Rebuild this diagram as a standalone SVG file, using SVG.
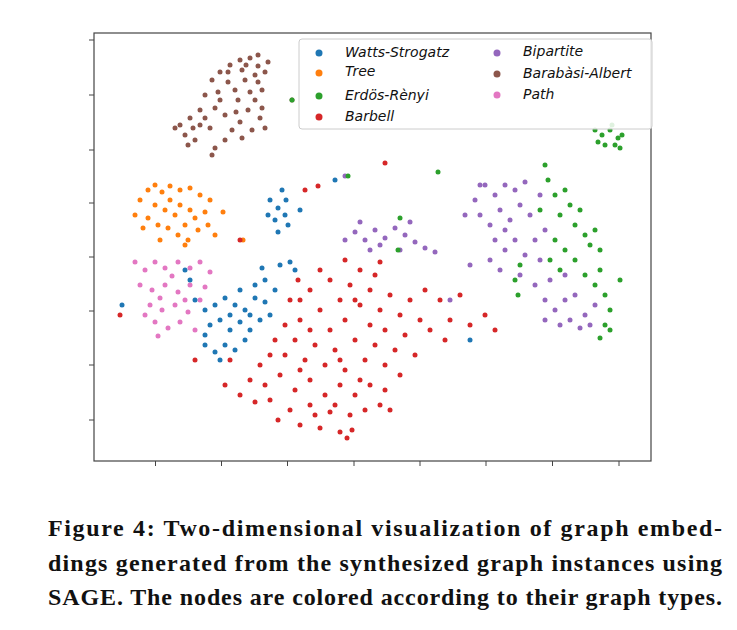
<svg xmlns="http://www.w3.org/2000/svg" width="737" height="630" viewBox="0 0 737 630">
<style>
.ax{fill:none;stroke:#444;stroke-width:1.2}
.tk{stroke:#444;stroke-width:1}
.b circle{fill:#1f77b4}.o circle{fill:#ff7f0e}.g circle{fill:#2ca02c}.r circle{fill:#d62728}.p circle{fill:#9467bd}.n circle{fill:#8c564b}.k circle{fill:#e377c2}
.lg{font-family:"DejaVu Sans",sans-serif;font-style:italic;font-size:14px;fill:#111}
.cap{font-family:"Liberation Serif",serif;font-weight:bold;font-size:24px;fill:#111}
</style>
<rect width="737" height="630" fill="#fff"/>
<g id="points">
<g class="n">
<circle cx="180" cy="125" r="2.5"/><circle cx="190" cy="118" r="2.5"/><circle cx="200" cy="110" r="2.5"/><circle cx="185" cy="135" r="2.5"/><circle cx="195" cy="140" r="2.5"/><circle cx="210" cy="128" r="2.5"/><circle cx="215" cy="148" r="2.5"/><circle cx="205" cy="95" r="2.5"/><circle cx="212" cy="80" r="2.5"/><circle cx="220" cy="72" r="2.5"/><circle cx="230" cy="65" r="2.5"/><circle cx="240" cy="60" r="2.5"/><circle cx="250" cy="58" r="2.5"/><circle cx="258" cy="66" r="2.5"/><circle cx="265" cy="72" r="2.5"/><circle cx="262" cy="90" r="2.5"/><circle cx="255" cy="100" r="2.5"/><circle cx="248" cy="110" r="2.5"/><circle cx="240" cy="122" r="2.5"/><circle cx="232" cy="130" r="2.5"/><circle cx="225" cy="115" r="2.5"/><circle cx="220" cy="100" r="2.5"/><circle cx="235" cy="90" r="2.5"/><circle cx="245" cy="80" r="2.5"/><circle cx="228" cy="82" r="2.5"/><circle cx="238" cy="100" r="2.5"/><circle cx="250" cy="92" r="2.5"/><circle cx="260" cy="118" r="2.5"/><circle cx="265" cy="128" r="2.5"/><circle cx="252" cy="130" r="2.5"/><circle cx="242" cy="138" r="2.5"/><circle cx="225" cy="140" r="2.5"/><circle cx="212" cy="155" r="2.5"/><circle cx="200" cy="125" r="2.5"/><circle cx="175" cy="128" r="2.5"/><circle cx="205" cy="118" r="2.5"/><circle cx="218" cy="92" r="2.5"/><circle cx="242" cy="70" r="2.5"/><circle cx="255" cy="75" r="2.5"/><circle cx="268" cy="62" r="2.5"/><circle cx="236" cy="112" r="2.5"/><circle cx="215" cy="108" r="2.5"/><circle cx="193" cy="128" r="2.5"/><circle cx="188" cy="145" r="2.5"/><circle cx="228" cy="72" r="2.5"/><circle cx="246" cy="65" r="2.5"/><circle cx="258" cy="82" r="2.5"/><circle cx="262" cy="108" r="2.5"/><circle cx="292" cy="100" r="2.5"/><circle cx="258" cy="55" r="2.5"/>
</g>
<g class="o">
<circle cx="135" cy="215" r="2.5"/><circle cx="140" cy="200" r="2.5"/><circle cx="148" cy="190" r="2.5"/><circle cx="155" cy="185" r="2.5"/><circle cx="162" cy="192" r="2.5"/><circle cx="170" cy="186" r="2.5"/><circle cx="180" cy="190" r="2.5"/><circle cx="190" cy="188" r="2.5"/><circle cx="200" cy="195" r="2.5"/><circle cx="210" cy="200" r="2.5"/><circle cx="205" cy="212" r="2.5"/><circle cx="195" cy="218" r="2.5"/><circle cx="185" cy="225" r="2.5"/><circle cx="175" cy="215" r="2.5"/><circle cx="165" cy="210" r="2.5"/><circle cx="155" cy="205" r="2.5"/><circle cx="148" cy="218" r="2.5"/><circle cx="158" cy="225" r="2.5"/><circle cx="168" cy="228" r="2.5"/><circle cx="178" cy="235" r="2.5"/><circle cx="188" cy="240" r="2.5"/><circle cx="198" cy="230" r="2.5"/><circle cx="208" cy="225" r="2.5"/><circle cx="215" cy="235" r="2.5"/><circle cx="180" cy="205" r="2.5"/><circle cx="190" cy="210" r="2.5"/><circle cx="170" cy="200" r="2.5"/><circle cx="143" cy="228" r="2.5"/><circle cx="223" cy="212" r="2.5"/><circle cx="185" cy="245" r="2.5"/><circle cx="243" cy="240" r="2.5"/><circle cx="160" cy="240" r="2.5"/>
</g>
<g class="k">
<circle cx="135" cy="262" r="2.5"/><circle cx="145" cy="270" r="2.5"/><circle cx="155" cy="262" r="2.5"/><circle cx="165" cy="268" r="2.5"/><circle cx="178" cy="262" r="2.5"/><circle cx="190" cy="268" r="2.5"/><circle cx="200" cy="262" r="2.5"/><circle cx="210" cy="272" r="2.5"/><circle cx="140" cy="285" r="2.5"/><circle cx="152" cy="290" r="2.5"/><circle cx="165" cy="285" r="2.5"/><circle cx="178" cy="292" r="2.5"/><circle cx="190" cy="285" r="2.5"/><circle cx="150" cy="305" r="2.5"/><circle cx="162" cy="310" r="2.5"/><circle cx="175" cy="305" r="2.5"/><circle cx="188" cy="312" r="2.5"/><circle cx="155" cy="322" r="2.5"/><circle cx="168" cy="328" r="2.5"/><circle cx="180" cy="322" r="2.5"/><circle cx="195" cy="330" r="2.5"/><circle cx="200" cy="300" r="2.5"/><circle cx="145" cy="315" r="2.5"/><circle cx="160" cy="298" r="2.5"/><circle cx="172" cy="276" r="2.5"/><circle cx="205" cy="287" r="2.5"/><circle cx="158" cy="336" r="2.5"/><circle cx="185" cy="300" r="2.5"/>
</g>
<g class="b">
<circle cx="195" cy="300" r="2.5"/><circle cx="205" cy="310" r="2.5"/><circle cx="215" cy="305" r="2.5"/><circle cx="225" cy="298" r="2.5"/><circle cx="235" cy="305" r="2.5"/><circle cx="245" cy="310" r="2.5"/><circle cx="255" cy="298" r="2.5"/><circle cx="265" cy="302" r="2.5"/><circle cx="210" cy="325" r="2.5"/><circle cx="220" cy="320" r="2.5"/><circle cx="230" cy="330" r="2.5"/><circle cx="240" cy="322" r="2.5"/><circle cx="250" cy="330" r="2.5"/><circle cx="260" cy="320" r="2.5"/><circle cx="270" cy="315" r="2.5"/><circle cx="205" cy="345" r="2.5"/><circle cx="215" cy="352" r="2.5"/><circle cx="225" cy="345" r="2.5"/><circle cx="235" cy="350" r="2.5"/><circle cx="220" cy="360" r="2.5"/><circle cx="245" cy="340" r="2.5"/><circle cx="255" cy="285" r="2.5"/><circle cx="265" cy="280" r="2.5"/><circle cx="275" cy="290" r="2.5"/><circle cx="280" cy="265" r="2.5"/><circle cx="290" cy="262" r="2.5"/><circle cx="295" cy="270" r="2.5"/><circle cx="270" cy="200" r="2.5"/><circle cx="278" cy="208" r="2.5"/><circle cx="285" cy="215" r="2.5"/><circle cx="275" cy="220" r="2.5"/><circle cx="288" cy="225" r="2.5"/><circle cx="282" cy="190" r="2.5"/><circle cx="268" cy="215" r="2.5"/><circle cx="278" cy="232" r="2.5"/><circle cx="286" cy="200" r="2.5"/><circle cx="190" cy="280" r="2.5"/><circle cx="185" cy="270" r="2.5"/><circle cx="122" cy="305" r="2.5"/><circle cx="205" cy="335" r="2.5"/><circle cx="240" cy="290" r="2.5"/><circle cx="250" cy="315" r="2.5"/><circle cx="230" cy="315" r="2.5"/><circle cx="262" cy="268" r="2.5"/><circle cx="300" cy="210" r="2.5"/><circle cx="470" cy="340" r="2.5"/><circle cx="335" cy="180" r="2.5"/>
</g>
<g class="r">
<circle cx="290" cy="300" r="2.5"/><circle cx="300" cy="320" r="2.5"/><circle cx="310" cy="290" r="2.5"/><circle cx="320" cy="310" r="2.5"/><circle cx="330" cy="280" r="2.5"/><circle cx="340" cy="300" r="2.5"/><circle cx="350" cy="285" r="2.5"/><circle cx="360" cy="305" r="2.5"/><circle cx="370" cy="290" r="2.5"/><circle cx="380" cy="310" r="2.5"/><circle cx="390" cy="295" r="2.5"/><circle cx="400" cy="315" r="2.5"/><circle cx="410" cy="300" r="2.5"/><circle cx="275" cy="340" r="2.5"/><circle cx="285" cy="355" r="2.5"/><circle cx="295" cy="340" r="2.5"/><circle cx="305" cy="360" r="2.5"/><circle cx="315" cy="345" r="2.5"/><circle cx="325" cy="365" r="2.5"/><circle cx="335" cy="350" r="2.5"/><circle cx="345" cy="370" r="2.5"/><circle cx="355" cy="340" r="2.5"/><circle cx="365" cy="360" r="2.5"/><circle cx="375" cy="345" r="2.5"/><circle cx="385" cy="365" r="2.5"/><circle cx="395" cy="350" r="2.5"/><circle cx="405" cy="335" r="2.5"/><circle cx="250" cy="380" r="2.5"/><circle cx="265" cy="385" r="2.5"/><circle cx="280" cy="375" r="2.5"/><circle cx="295" cy="390" r="2.5"/><circle cx="310" cy="380" r="2.5"/><circle cx="325" cy="395" r="2.5"/><circle cx="340" cy="385" r="2.5"/><circle cx="355" cy="395" r="2.5"/><circle cx="370" cy="385" r="2.5"/><circle cx="385" cy="390" r="2.5"/><circle cx="240" cy="395" r="2.5"/><circle cx="255" cy="402" r="2.5"/><circle cx="270" cy="400" r="2.5"/><circle cx="290" cy="410" r="2.5"/><circle cx="310" cy="405" r="2.5"/><circle cx="330" cy="412" r="2.5"/><circle cx="350" cy="415" r="2.5"/><circle cx="365" cy="410" r="2.5"/><circle cx="380" cy="405" r="2.5"/><circle cx="300" cy="425" r="2.5"/><circle cx="320" cy="428" r="2.5"/><circle cx="340" cy="432" r="2.5"/><circle cx="352" cy="430" r="2.5"/><circle cx="347" cy="438" r="2.5"/><circle cx="225" cy="385" r="2.5"/><circle cx="345" cy="260" r="2.5"/><circle cx="320" cy="270" r="2.5"/><circle cx="360" cy="270" r="2.5"/><circle cx="380" cy="262" r="2.5"/><circle cx="298" cy="280" r="2.5"/><circle cx="270" cy="355" r="2.5"/><circle cx="260" cy="365" r="2.5"/><circle cx="420" cy="320" r="2.5"/><circle cx="430" cy="330" r="2.5"/><circle cx="440" cy="300" r="2.5"/><circle cx="450" cy="320" r="2.5"/><circle cx="460" cy="295" r="2.5"/><circle cx="470" cy="325" r="2.5"/><circle cx="485" cy="315" r="2.5"/><circle cx="495" cy="330" r="2.5"/><circle cx="415" cy="355" r="2.5"/><circle cx="400" cy="375" r="2.5"/><circle cx="330" cy="330" r="2.5"/><circle cx="345" cy="320" r="2.5"/><circle cx="310" cy="330" r="2.5"/><circle cx="370" cy="325" r="2.5"/><circle cx="385" cy="330" r="2.5"/><circle cx="300" cy="370" r="2.5"/><circle cx="340" cy="360" r="2.5"/><circle cx="360" cy="380" r="2.5"/><circle cx="230" cy="360" r="2.5"/><circle cx="120" cy="315" r="2.5"/><circle cx="195" cy="360" r="2.5"/><circle cx="305" cy="190" r="2.5"/><circle cx="318" cy="186" r="2.5"/><circle cx="385" cy="163" r="2.5"/><circle cx="240" cy="240" r="2.5"/><circle cx="300" cy="300" r="2.5"/><circle cx="425" cy="290" r="2.5"/><circle cx="445" cy="340" r="2.5"/><circle cx="278" cy="420" r="2.5"/><circle cx="315" cy="415" r="2.5"/><circle cx="335" cy="405" r="2.5"/><circle cx="390" cy="410" r="2.5"/><circle cx="285" cy="325" r="2.5"/><circle cx="355" cy="300" r="2.5"/><circle cx="375" cy="275" r="2.5"/>
</g>
<g class="p">
<circle cx="345" cy="240" r="2.5"/><circle cx="355" cy="232" r="2.5"/><circle cx="365" cy="240" r="2.5"/><circle cx="375" cy="230" r="2.5"/><circle cx="385" cy="238" r="2.5"/><circle cx="395" cy="228" r="2.5"/><circle cx="405" cy="235" r="2.5"/><circle cx="415" cy="242" r="2.5"/><circle cx="425" cy="248" r="2.5"/><circle cx="435" cy="252" r="2.5"/><circle cx="360" cy="222" r="2.5"/><circle cx="380" cy="245" r="2.5"/><circle cx="400" cy="250" r="2.5"/><circle cx="370" cy="250" r="2.5"/><circle cx="410" cy="222" r="2.5"/><circle cx="465" cy="215" r="2.5"/><circle cx="475" cy="200" r="2.5"/><circle cx="485" cy="185" r="2.5"/><circle cx="495" cy="195" r="2.5"/><circle cx="505" cy="185" r="2.5"/><circle cx="515" cy="190" r="2.5"/><circle cx="525" cy="182" r="2.5"/><circle cx="480" cy="215" r="2.5"/><circle cx="490" cy="225" r="2.5"/><circle cx="500" cy="210" r="2.5"/><circle cx="510" cy="220" r="2.5"/><circle cx="520" cy="205" r="2.5"/><circle cx="530" cy="215" r="2.5"/><circle cx="495" cy="240" r="2.5"/><circle cx="505" cy="250" r="2.5"/><circle cx="515" cy="240" r="2.5"/><circle cx="525" cy="255" r="2.5"/><circle cx="535" cy="240" r="2.5"/><circle cx="540" cy="260" r="2.5"/><circle cx="500" cy="270" r="2.5"/><circle cx="520" cy="275" r="2.5"/><circle cx="535" cy="285" r="2.5"/><circle cx="545" cy="300" r="2.5"/><circle cx="555" cy="310" r="2.5"/><circle cx="565" cy="300" r="2.5"/><circle cx="575" cy="295" r="2.5"/><circle cx="560" cy="325" r="2.5"/><circle cx="570" cy="320" r="2.5"/><circle cx="585" cy="315" r="2.5"/><circle cx="595" cy="305" r="2.5"/><circle cx="590" cy="325" r="2.5"/><circle cx="580" cy="328" r="2.5"/><circle cx="550" cy="280" r="2.5"/><circle cx="565" cy="275" r="2.5"/><circle cx="545" cy="230" r="2.5"/><circle cx="470" cy="265" r="2.5"/><circle cx="490" cy="260" r="2.5"/><circle cx="480" cy="185" r="2.5"/><circle cx="540" cy="195" r="2.5"/><circle cx="505" cy="230" r="2.5"/><circle cx="545" cy="320" r="2.5"/><circle cx="450" cy="300" r="2.5"/><circle cx="345" cy="176" r="2.5"/>
</g>
<g class="g">
<circle cx="545" cy="165" r="2.5"/><circle cx="548" cy="180" r="2.5"/><circle cx="555" cy="195" r="2.5"/><circle cx="565" cy="190" r="2.5"/><circle cx="570" cy="205" r="2.5"/><circle cx="580" cy="210" r="2.5"/><circle cx="560" cy="215" r="2.5"/><circle cx="575" cy="225" r="2.5"/><circle cx="585" cy="235" r="2.5"/><circle cx="595" cy="230" r="2.5"/><circle cx="590" cy="245" r="2.5"/><circle cx="600" cy="250" r="2.5"/><circle cx="555" cy="240" r="2.5"/><circle cx="565" cy="250" r="2.5"/><circle cx="550" cy="260" r="2.5"/><circle cx="560" cy="270" r="2.5"/><circle cx="575" cy="260" r="2.5"/><circle cx="585" cy="275" r="2.5"/><circle cx="595" cy="285" r="2.5"/><circle cx="605" cy="295" r="2.5"/><circle cx="600" cy="270" r="2.5"/><circle cx="610" cy="310" r="2.5"/><circle cx="605" cy="325" r="2.5"/><circle cx="600" cy="338" r="2.5"/><circle cx="610" cy="330" r="2.5"/><circle cx="515" cy="280" r="2.5"/><circle cx="518" cy="295" r="2.5"/><circle cx="520" cy="265" r="2.5"/><circle cx="540" cy="210" r="2.5"/><circle cx="620" cy="280" r="2.5"/><circle cx="400" cy="218" r="2.5"/><circle cx="398" cy="250" r="2.5"/><circle cx="438" cy="172" r="2.5"/><circle cx="348" cy="176" r="2.5"/><circle cx="292" cy="100" r="2.5"/><circle cx="595" cy="130" r="2.5"/><circle cx="602" cy="135" r="2.5"/><circle cx="610" cy="130" r="2.5"/><circle cx="618" cy="138" r="2.5"/><circle cx="605" cy="145" r="2.5"/><circle cx="615" cy="145" r="2.5"/><circle cx="622" cy="135" r="2.5"/><circle cx="598" cy="142" r="2.5"/><circle cx="612" cy="125" r="2.5"/><circle cx="620" cy="148" r="2.5"/>
</g>
</g>
<g id="axes">
<rect class="ax" x="94" y="33" width="557" height="428"/>
<path class="tk" d="M155.5 461v5M221.5 461v5M287.5 461v5M354 461v5M420 461v5M486 461v5M552.5 461v5M619 461v5M94 40h-5M94 95h-5M94 150h-5M94 203h-5M94 257h-5M94 311h-5M94 365h-5M94 420h-5"/>
</g>
<g id="legend">
<rect x="299" y="39" width="353" height="90" rx="3" fill="#fff" fill-opacity="0.85" stroke="#ccc"/>
<circle cx="319" cy="53" r="3.5" fill="#1f77b4"/><text class="lg" x="345" y="57">Watts-Strogatz</text>
<circle cx="319" cy="73" r="3.5" fill="#ff7f0e"/><text class="lg" x="345" y="76">Tree</text>
<circle cx="319" cy="96" r="3.5" fill="#2ca02c"/><text class="lg" x="345" y="100">Erdös-Rènyi</text>
<circle cx="319" cy="117" r="3.5" fill="#d62728"/><text class="lg" x="345" y="121">Barbell</text>
<circle cx="497" cy="53" r="3.5" fill="#9467bd"/><text class="lg" x="523" y="56">Bipartite</text>
<circle cx="497" cy="74" r="3.5" fill="#8c564b"/><text class="lg" x="523" y="78">Barabàsi-Albert</text>
<circle cx="497" cy="95" r="3.5" fill="#e377c2"/><text class="lg" x="523" y="99">Path</text>
</g>
<g id="caption">
<text class="cap" x="48" y="536" textLength="674" lengthAdjust="spacing">Figure 4: Two-dimensional visualization of graph embed-</text>
<text class="cap" x="48" y="571" textLength="674" lengthAdjust="spacing">dings generated from the synthesized graph instances using</text>
<text class="cap" x="48" y="605" textLength="674" lengthAdjust="spacing">SAGE. The nodes are colored according to their graph types.</text>
</g>
</svg>
